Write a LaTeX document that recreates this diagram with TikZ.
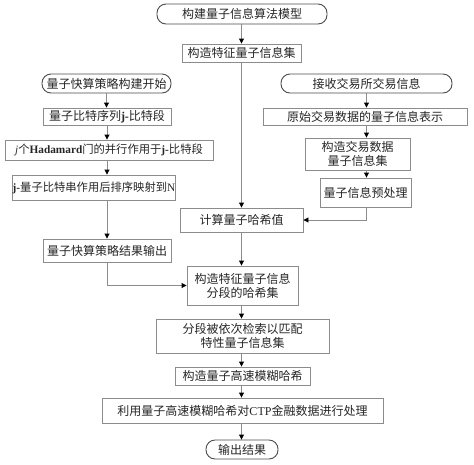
\documentclass[tikz,border=0pt]{standalone}
\usepackage{fontspec}
\setmainfont{Noto Sans CJK SC}
\newfontfamily\lat{Liberation Serif}
\usetikzlibrary{arrows.meta,calc}
\begin{document}
\begin{tikzpicture}[x=1pt,y=-1pt,
  every node/.style={font=\fontsize{12}{14}\selectfont, text=black!85, inner sep=0pt, align=center},
  small/.style={font=\fontsize{11.3}{14}\selectfont},
  box/.style={draw=black!45, line width=0.9pt, fill=white},
  term/.style={draw=black!70, line width=0.9pt, fill=white, rounded corners=9pt},
  arr/.style={draw=black!45, line width=0.9pt, -{Triangle[length=5pt,width=5pt,fill=black,color=black]}}]
\useasboundingbox (0,0) rectangle (474,464);
\node[term, minimum width=170pt, minimum height=20pt] (t1) at (242,14) {构建量子信息算法模型};
\node[box, minimum width=119pt, minimum height=18pt] (b1) at (241.5,53) {构造特征量子信息集};
\node[term, minimum width=129pt, minimum height=19pt] (tl) at (106.5,83.5) {量子快算策略构建开始};
\node[term, minimum width=171pt, minimum height=19pt] (tr) at (366.5,83.5) {接收交易所交易信息};
\node[box, minimum width=128pt, minimum height=17pt] (l1) at (107,116.5) {量子比特序列{\lat\bfseries j-}比特段};
\node[box, small, minimum width=208pt, minimum height=20pt] (l2) at (109,150) {{\lat\itshape j}个{\lat\bfseries Hadamard}门的并行作用于{\lat\bfseries j-}比特段};
\node[box, small, minimum width=158pt, minimum height=25pt] (l3) at (94,187.5) {{\lat\bfseries j-}量子比特串作用后排序映射到{\lat N}};
\node[box, minimum width=128pt, minimum height=23pt] (l4) at (107,250.5) {量子快算策略结果输出};
\node[box, minimum width=204pt, minimum height=17pt] (r1) at (365,116.5) {原始交易数据的量子信息表示};
\node[box, minimum width=105pt, minimum height=32pt] (r2) at (357.5,154) {构造交易数据\\量子信息集};
\node[box, minimum width=91pt, minimum height=29pt] (r3) at (365.5,192.5) {量子信息预处理};
\node[box, minimum width=123pt, minimum height=24pt] (c1) at (241.5,220) {计算量子哈希值};
\node[box, minimum width=111pt, minimum height=39pt] (c2) at (242.5,285.5) {构造特征量子信息\\分段的哈希集};
\node[box, minimum width=173pt, minimum height=34pt] (c3) at (242.5,336) {分段被依次检索以匹配\\特性量子信息集};
\node[box, minimum width=135pt, minimum height=18pt] (c4) at (242.5,376) {构造量子高速模糊哈希};
\node[box, minimum width=281pt, minimum height=25pt] (c5) at (242.5,410.5) {利用量子高速模糊哈希对{\lat CTP}金融数据进行处理};
\node[term, minimum width=72pt, minimum height=19pt] (t2) at (242,449.5) {输出结果};
\draw[arr] (t1.south -| b1.north) -- (b1.north);
\draw[arr] (b1.south) -- (b1.south |- c1.north);
\draw[arr] (tl.south) -- (tl.south |- l1.north);
\draw[arr] (l1.south) -- (l1.south |- l2.north);
\draw[arr] (l2.south -| l1.south) -- (l1.south |- l3.north);
\draw[arr] (l3.south -| l4.north) -- (l4.north);
\draw[arr] (tr.south) -- (tr.south |- r1.north);
\draw[arr] (r1.south -| tr.south) -- (tr.south |- r2.north);
\draw[arr] (r2.south -| tr.south) -- (tr.south |- r3.north);
\draw[arr] (r3.south -| tr.south) |- (c1.east);
\draw[arr] (l4.south) |- (c2.west);
\draw[arr] (c1.south -| b1.south) -- (b1.south |- c2.north);
\draw[arr] (c2.south -| b1.south) -- (b1.south |- c3.north);
\draw[arr] (c3.south -| b1.south) -- (b1.south |- c4.north);
\draw[arr] (c4.south -| b1.south) -- (b1.south |- c5.north);
\draw[arr] (c5.south -| b1.south) -- (b1.south |- t2.north);
\end{tikzpicture}
\end{document}
